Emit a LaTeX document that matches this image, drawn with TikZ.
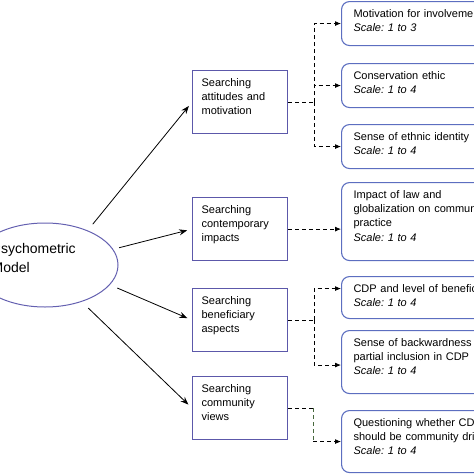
\documentclass[tikz,border=0pt]{standalone}
\usepackage{fontspec}
\setmainfont{Liberation Sans}
\usepackage{xcolor}
\usetikzlibrary{positioning,arrows.meta,shapes.geometric}
\definecolor{boxblue}{RGB}{92,88,170}
\definecolor{roundblue}{RGB}{92,110,192}
\definecolor{ovalblue}{RGB}{100,96,176}
\definecolor{trunkgreen}{RGB}{72,104,62}
\frenchspacing

\begin{document}
\begin{tikzpicture}[x=1pt,y=-1pt,>={Stealth[length=8pt,width=6pt]},
		search/.style={draw=boxblue,line width=1.2pt,anchor=north west,align=left,text width=77pt,inner xsep=9pt,inner ysep=8pt,text height=8pt,text depth=39pt,font=\fontsize{11}{14}\selectfont},
		itembox/.style={draw=roundblue,line width=1.1pt,rounded corners=8pt,anchor=north west,align=left,text width=150pt,inner xsep=12pt,inner ysep=8pt,text height=8pt,text depth=#1,font=\fontsize{11}{14.2}\selectfont},
		link/.style={->,line width=0.8pt,shorten <=8pt,shorten >=5pt},
		dashlink/.style={-{Latex[length=6pt,width=5pt]},line width=0.8pt,dash pattern=on 4pt off 3pt}]
		\useasboundingbox (0,0) rectangle (474,474);
		\clip (0,0) rectangle (474,474);

		% centre
		\node[ellipse,draw=ovalblue,line width=1pt,minimum width=146pt,minimum height=84pt] (psy) at (45,265) {};
		\node[anchor=base west,align=left,text width=100pt,inner sep=0pt,font=\fontsize{14}{19}\selectfont] (psytext) at (-8.5,253) {Psychometric\\Model};

		% searching boxes
		\node[search] (att) at (192,70) {Searching\\attitudes and\\motivation};
		\node[search] (con) at (192,197) {Searching\\contemporary\\impacts};
		\node[search] (ben) at (192,288) {Searching\\beneficiary\\aspects};
		\node[search] (com) at (192,376) {Searching\\community\\views};

		% scales
		\node[itembox=20pt] (mot) at (341,1) {Motivation for involvement\\\textit{Scale: 1 to 3}};
		\node[itembox=20pt] (cons) at (341,63) {Conservation ethic\\\textit{Scale: 1 to 4}};
		\node[itembox=20pt] (ethn) at (341,124) {Sense of ethnic identity\\\textit{Scale: 1 to 4}};
		\node[itembox=54pt] (law) at (341,182) {Impact of law and\\globalization on community\\practice\\\textit{Scale: 1 to 4}};
		\node[itembox=18pt] (cdp) at (341,276) {CDP and level of benefic\\\textit{Scale: 1 to 4}};
		\node[itembox=39pt] (back) at (341,330) {Sense of backwardness\\partial inclusion in CDP\\\textit{Scale: 1 to 4}};
		\node[itembox=38pt] (cdd) at (341,410) {Questioning whether CDP\\should be community driven\\\textit{Scale: 1 to 4}};

		% solid arrows
		\draw[link] (psy.39) -- (att.west);
		\draw[link,shorten <=6pt] (psy.13) -- (con.west);
		\draw[link] (psy.-17) -- (ben.west);
		\draw[link,shorten <=9pt] (psy.-45) -- (com.west);

		% dashed arrows
		\draw[dashlink,-] (att.east) -- ++(26,0) coordinate (t1);
		\draw[dashlink] (t1) |- (mot.west);
		\draw[dashlink] (t1) |- (cons.west);
		\draw[dashlink] (t1) |- (ethn.west);
		\draw[dashlink] (con.east) -- (con.east -| law.west);
		\draw[dashlink,-] (ben.east) -- ++(26,0) coordinate (t3);
		\draw[dashlink] (t3) |- ([yshift=9pt]cdp.west);
		\draw[dashlink] (t3) |- ([yshift=-3pt]back.west);
		\draw[dashlink,-] (com.east) -- ++(25,0) coordinate (t4);
		\draw[dashlink,-,trunkgreen] (t4) -- (t4 |- cdd.west) coordinate (t4b);
		\draw[dashlink] (t4b) -- (cdd.west);
	\end{tikzpicture}
\end{document}
